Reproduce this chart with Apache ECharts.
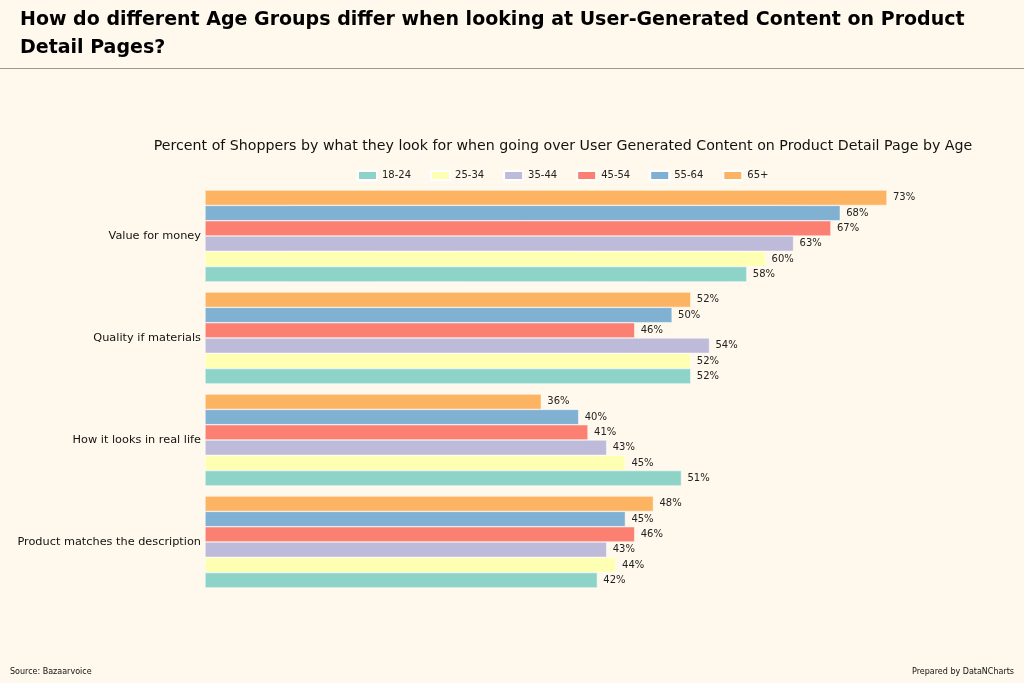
<!DOCTYPE html>
<html>
<head>
<meta charset="utf-8">
<script src="https://cdn.jsdelivr.net/npm/echarts@6/dist/echarts.min.js"></script>
<style>
  html, body { margin: 0; padding: 0; background: #fff8ec; }
  #chart { width: 1024px; height: 683px; }
</style>
</head>
<body>
<div id="chart"></div>
<script>
// categories bottom to top
const categories = ['Product matches the description', 'How it looks in real life', 'Quality if materials', 'Value for money'];
const ageGroups = ['18-24', '25-34', '35-44', '45-54', '55-64', '65+'];
const colors = ['#8dd3c7', '#ffffb3', '#bebada', '#fb8072', '#80b1d3', '#fdb462'];
// values per age group, same order as categories
const age18_24 = [42, 51, 52, 58];
const age25_34 = [44, 45, 52, 60];
const age35_44 = [43, 43, 54, 63];
const age45_54 = [46, 41, 46, 67];
const age55_64 = [45, 40, 50, 68];
const age65plus = [48, 36, 52, 73];
const values = [age18_24, age25_34, age35_44, age45_54, age55_64, age65plus];

const font = 'DejaVu Sans';

// first series is drawn on top, so go from 65+ down to 18-24
const series = [];
for (let i = ageGroups.length - 1; i >= 0; i--) {
    series.push({
        name: ageGroups[i],
        type: 'bar',
        data: values[i],
        barWidth: 15.3,
        barGap: '0%',
        itemStyle: { color: colors[i], borderColor: '#ffffff', borderWidth: 0.5 },
        label: {
            show: true,
            position: 'right',
            distance: 6,
            formatter: '{c}%',
            fontFamily: font,
            fontSize: 10,
            color: '#222'
        }
    });
}

const myChart = echarts.init(document.getElementById('chart'));
myChart.setOption({
    animation: false,
    backgroundColor: '#fff8ec',
    color: colors,
    title: [
        {
            text: 'How do different Age Groups differ when looking at User-Generated Content on Product\nDetail Pages?',
            left: 20,
            top: 6,
            padding: 0,
            textStyle: { fontFamily: font, fontSize: 19, fontWeight: 'bold', color: '#000', lineHeight: 28 }
        },
        {
            text: 'Percent of Shoppers by what they look for when going over User Generated Content on Product Detail Page by Age',
            left: 563,
            textAlign: 'center',
            top: 139,
            padding: 0,
            textStyle: { fontFamily: font, fontSize: 14.2, fontWeight: 'normal', color: '#111' }
        },
        {
            text: 'Source: Bazaarvoice',
            left: 10,
            top: 668,
            padding: 0,
            textStyle: { fontFamily: font, fontSize: 8, fontWeight: 'normal', color: '#111' }
        },
        {
            text: 'Prepared by DataNCharts',
            right: 10,
            top: 668,
            padding: 0,
            textStyle: { fontFamily: font, fontSize: 8, fontWeight: 'normal', color: '#111' }
        }
    ],
    graphic: [{
        type: 'line',
        shape: { x1: 0, y1: 68.5, x2: 1024, y2: 68.5 },
        style: { stroke: '#999', lineWidth: 1 }
    }],
    legend: {
        data: ageGroups,
        left: 357,
        top: 170,
        padding: 0,
        itemWidth: 19,
        itemHeight: 9,
        itemGap: 19,
        icon: 'rect',
        textStyle: { fontFamily: font, fontSize: 10, color: '#222' }
    },
    grid: {
        left: 205,
        right: 102,
        top: 185,
        bottom: 90
    },
    xAxis: {
        type: 'value',
        min: 0,
        max: 76.75,
        show: false
    },
    yAxis: {
        type: 'category',
        data: categories,
        axisLine: { show: false },
        axisTick: { show: false },
        axisLabel: { fontFamily: font, fontSize: 11.3, color: '#111', margin: 4 }
    },
    series: series
});
</script>
</body>
</html>
